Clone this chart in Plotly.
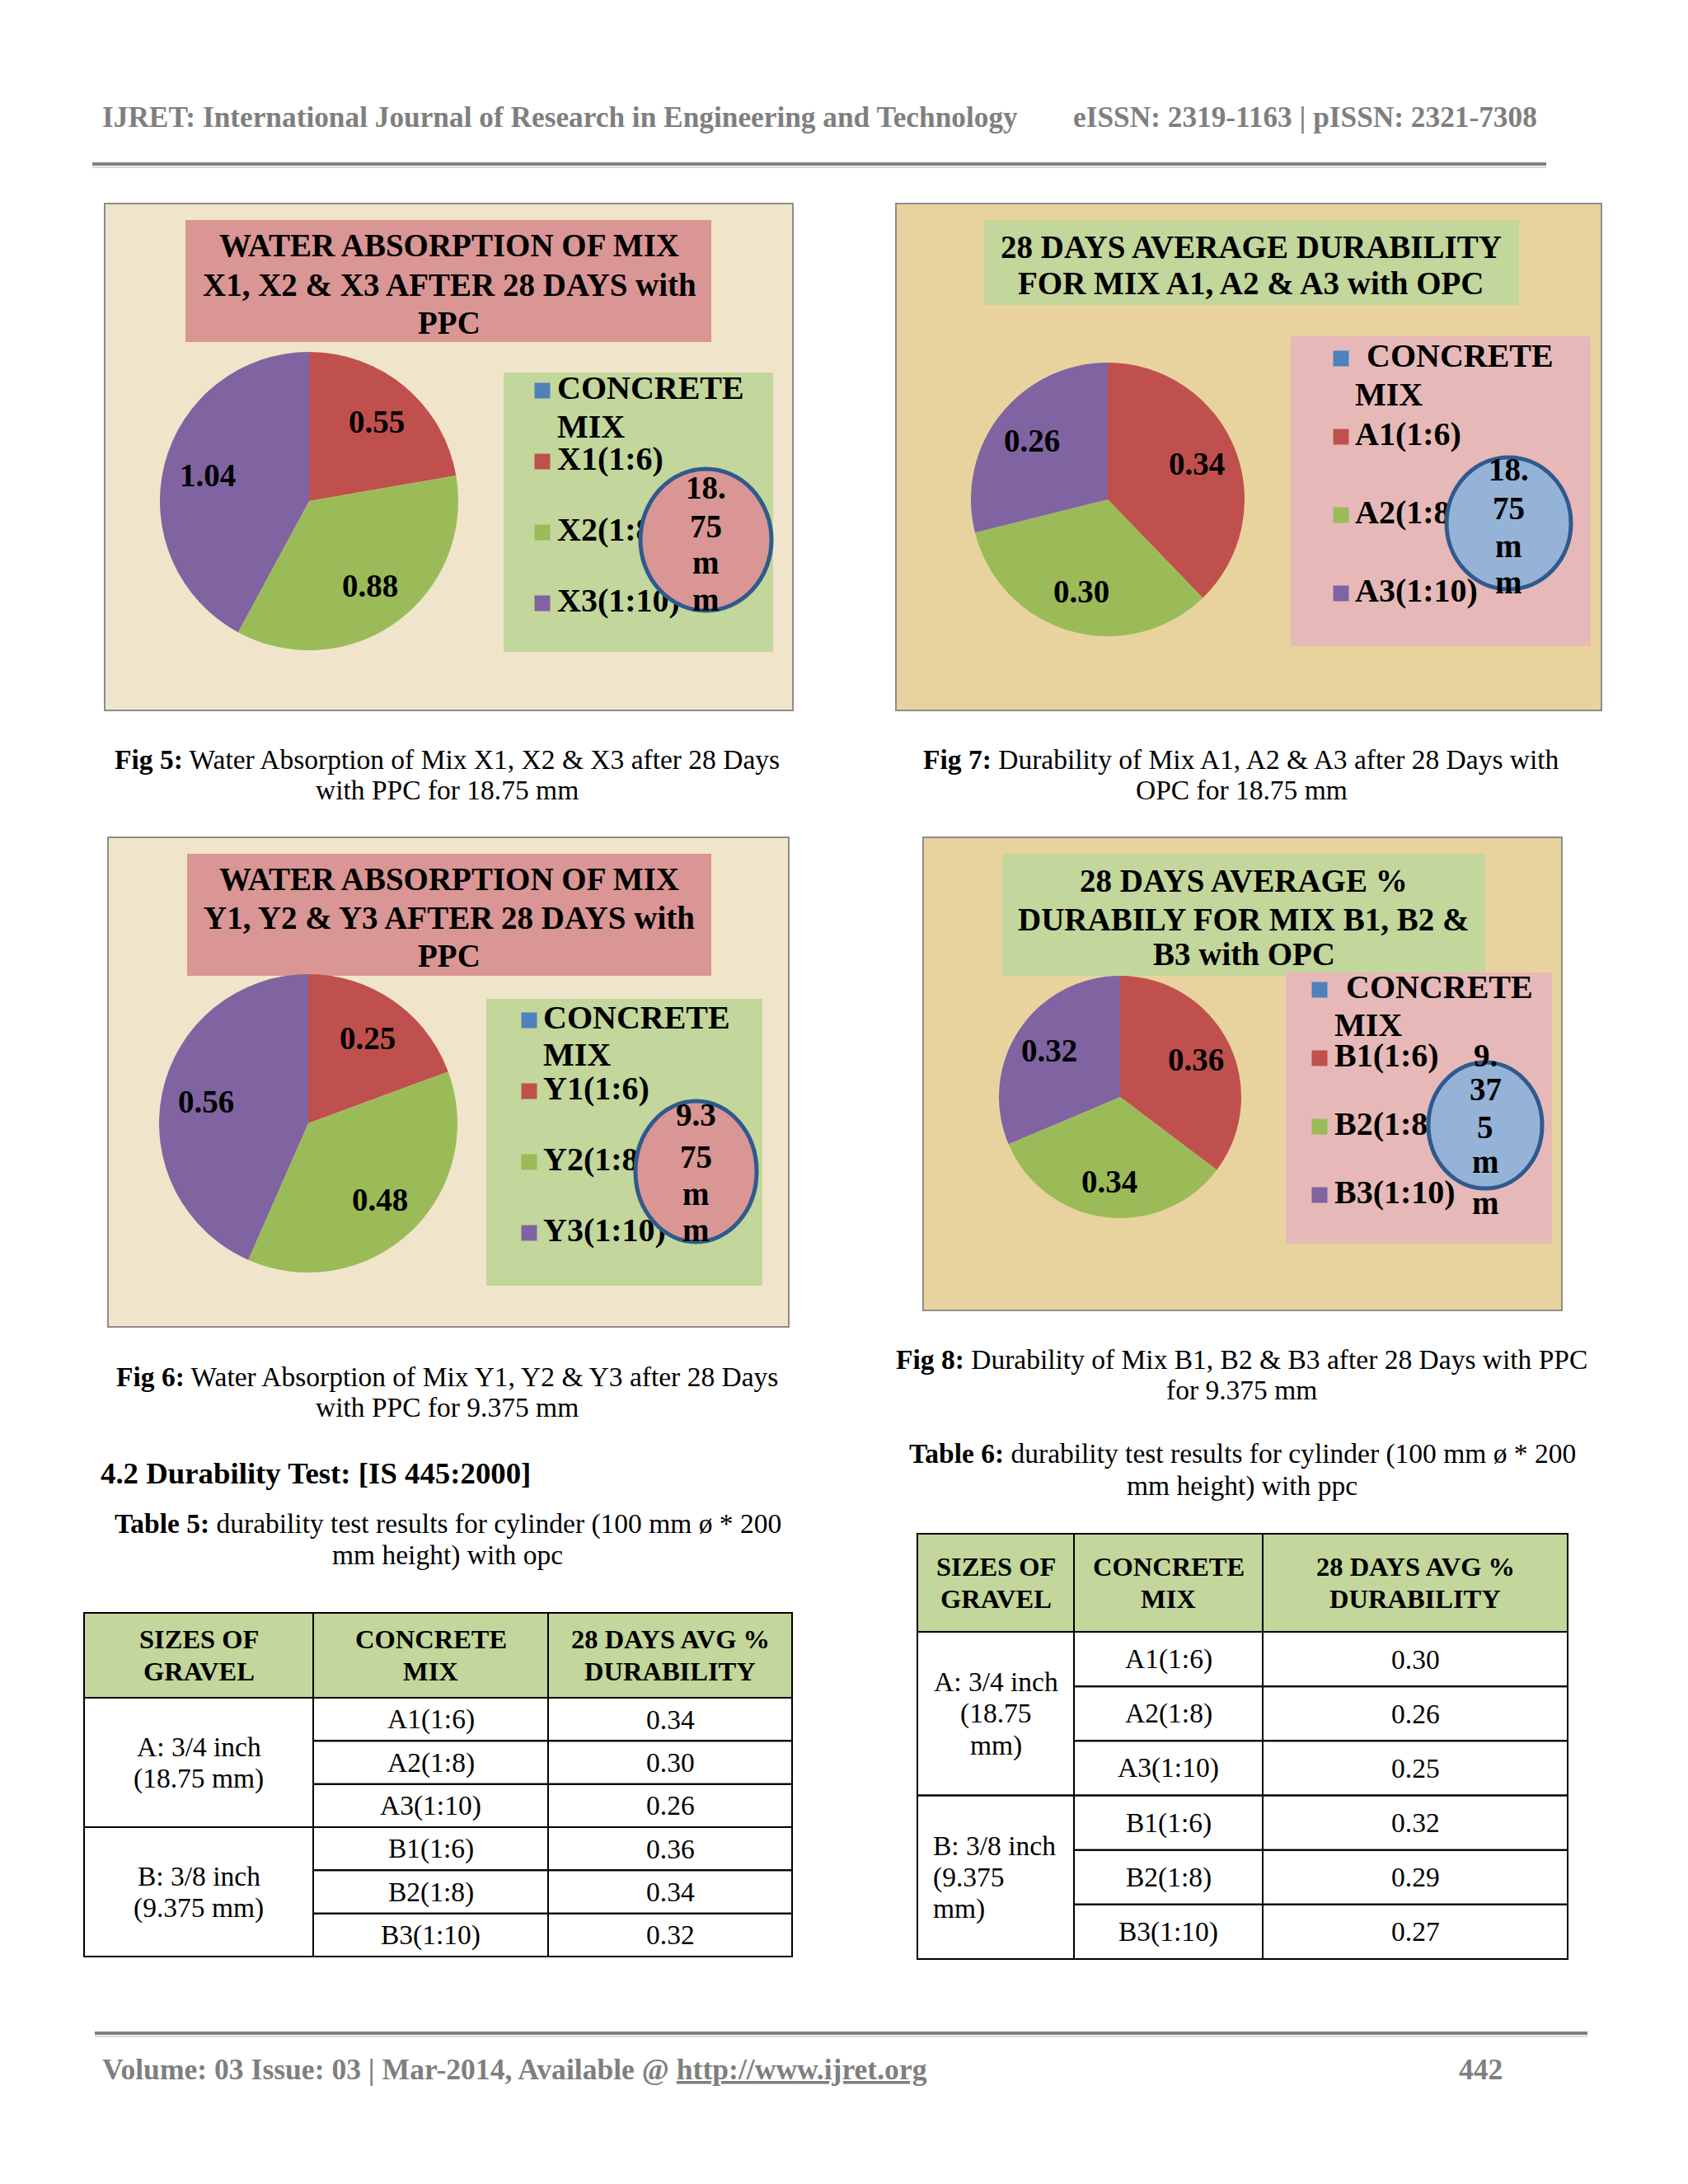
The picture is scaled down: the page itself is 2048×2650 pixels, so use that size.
import math
import plotly.graph_objects as go

W, H = 2048, 2650
SERIF = "Liberation Serif, Times New Roman, serif"

# ---------------- data ----------------
series_name = "CONCRETE MIX"
fig5_mix = ["X1(1:6)", "X2(1:8)", "X3(1:10)"]
fig5_values = [0.55, 0.88, 1.04]
fig6_mix = ["Y1(1:6)", "Y2(1:8)", "Y3(1:10)"]
fig6_values = [0.25, 0.48, 0.56]
fig7_mix = ["A1(1:6)", "A2(1:8)", "A3(1:10)"]
fig7_values = [0.34, 0.30, 0.26]
fig8_mix = ["B1(1:6)", "B2(1:8)", "B3(1:10)"]
fig8_values = [0.36, 0.34, 0.32]

fig5_title = ["WATER ABSORPTION OF MIX", "X1, X2 & X3 AFTER 28 DAYS with", "PPC"]
fig6_title = ["WATER ABSORPTION OF MIX", "Y1, Y2 & Y3 AFTER 28 DAYS with", "PPC"]
fig7_title = ["28 DAYS AVERAGE DURABILITY", "FOR MIX A1, A2 & A3 with OPC"]
fig8_title = ["28 DAYS AVERAGE %", "DURABILY FOR MIX B1, B2 &", "B3 with OPC"]
fig5_size_note = ["18.", "75", "m", "m"]
fig6_size_note = ["9.3", "75", "m", "m"]
fig7_size_note = ["18.", "75", "m", "m"]
fig8_size_note = ["9.", "37", "5", "m", "m"]

table_header = [["SIZES OF", "GRAVEL"], ["CONCRETE", "MIX"], ["28 DAYS AVG %", "DURABILITY"]]
table_mix = ["A1(1:6)", "A2(1:8)", "A3(1:10)", "B1(1:6)", "B2(1:8)", "B3(1:10)"]
table5_gravel = [["A: 3/4 inch", "(18.75 mm)"], ["B: 3/8 inch", "(9.375 mm)"]]
table6_gravel = [["A: 3/4 inch", "(18.75", "mm)"], ["B: 3/8 inch", "(9.375", "mm)"]]
table5_values = [0.34, 0.30, 0.26, 0.36, 0.34, 0.32]
table6_values = [0.30, 0.26, 0.25, 0.32, 0.29, 0.27]

# ---------------- styles ----------------
SLICE_COLORS = ["#C0504D", "#9BBB59", "#8064A2"]
SERIES_BLUE = "#4F81BD"
PINK = "#D99694"
LIGHT_PINK = "#E6B9B8"
GREEN_BOX = "#C3D69B"
ELL_BLUE = "#95B3D7"
ELL_LINE = "#2F5A8E"
PARCH = "#F0E5CA"
TAN = "#E8D39E"
GRAY_TXT = "#7F7F7F"

fig = go.Figure()


def txt(x, y, s, size=33.5, bold=False, color="black", xanchor="center", yanchor="middle"):
    fig.add_annotation(x=x, y=y, xref="x", yref="y", text=(f"<b>{s}</b>" if bold else s),
                       showarrow=False, xanchor=xanchor, yanchor=yanchor,
                       font=dict(family=SERIF, size=size, color=color))


def rect(x0, y0, x1, y1, fill=None, line_color=None, lw=2, layer="above"):
    fig.add_shape(type="rect", x0=x0, y0=y0, x1=x1, y1=y1, xref="x", yref="y", layer=layer,
                  fillcolor=fill if fill else "rgba(0,0,0,0)",
                  line=dict(color=line_color if line_color else "rgba(0,0,0,0)", width=lw if line_color else 0))


def chart(cfg, mix, values, title, note):
    fx0, fy0, fx1, fy1 = cfg["frame"]
    rect(fx0, fy0, fx1, fy1, fill=cfg["bg"], line_color="#8C8C8C", lw=2, layer="below")
    tx0, ty0, tx1, ty1 = cfg["title_box"]
    rect(tx0, ty0, tx1, ty1, fill=cfg["title_fill"], layer="below")
    lx0, ly0, lx1, ly1 = cfg["legend_box"]
    rect(lx0, ly0, lx1, ly1, fill=cfg["legend_fill"], layer="below")

    cx, cy, r = cfg["pie"]
    fig.add_trace(go.Pie(
        values=values, labels=mix, sort=False, direction="clockwise", rotation=0,
        marker=dict(colors=SLICE_COLORS, line=dict(width=0)),
        textinfo="none",
        domain=dict(x=[(cx - r) / W, (cx + r) / W], y=[1 - (cy + r) / H, 1 - (cy - r) / H]),
        hoverinfo="skip", showlegend=False))
    # data labels at 0.7 r along each slice's mid-angle (clockwise from 12 o'clock)
    tot = sum(values)
    cum = 0.0
    for v in values:
        mid = (cum + v / 2) / tot * 2 * math.pi
        cum += v
        txt(cx + 0.7 * r * math.sin(mid), cy - 0.7 * r * math.cos(mid), f"{v:.2f}", size=39, bold=True)

    # title lines
    for line, yy in zip(title, cfg["title_y"]):
        txt(cfg["title_x"], yy, line, size=39, bold=True)

    # legend (series name + categories)
    mx, tx, ys, first_dx, step_wrap = cfg["legend"]
    name_lines = series_name.split(" ")
    entry_y = [ys + i * cfg["legend_step"] for i in range(len(mix) + 1)]
    fig.add_trace(go.Scatter(
        x=[mx] * (len(mix) + 1), y=entry_y, mode="markers",
        marker=dict(symbol="square", size=19, color=[SERIES_BLUE] + SLICE_COLORS, line=dict(width=0)),
        hoverinfo="skip", showlegend=False))
    lab_x = [tx + first_dx, tx] + [tx] * len(mix)
    lab_y = [entry_y[0], entry_y[0] + step_wrap] + entry_y[1:]
    fig.add_trace(go.Scatter(
        x=lab_x, y=lab_y, mode="text", text=name_lines + mix, textposition="middle right",
        textfont=dict(family=SERIF, size=40, color="black", weight="bold"),
        hoverinfo="skip", showlegend=False))

    # ellipse with size note
    ex0, ey0, ex1, ey1 = cfg["ellipse"]
    fig.add_shape(type="circle", x0=ex0, y0=ey0, x1=ex1, y1=ey1, xref="x", yref="y", layer="above",
                  fillcolor=cfg["ell_fill"], line=dict(color=ELL_LINE, width=5))
    for line, yy in zip(note, cfg["note_y"]):
        txt((ex0 + ex1) / 2, yy, line, size=39, bold=True)


charts = [
    (dict(frame=(127, 247, 962, 862), bg=PARCH, title_box=(225, 267, 863, 415), title_fill=PINK,
          legend_box=(611, 452, 938, 791), legend_fill=GREEN_BOX, pie=(375, 608, 181),
          title_x=545, title_y=[297, 345, 391], legend=(658, 676, 474, 0, 47), legend_step=86,
          ellipse=(777, 569, 936, 741), ell_fill=PINK, note_y=[591, 638, 682, 727]),
     fig5_mix, fig5_values, fig5_title, fig5_size_note),
    (dict(frame=(1087, 247, 1943, 862), bg=TAN, title_box=(1194, 267, 1843, 370), title_fill=GREEN_BOX,
          legend_box=(1566, 408, 1930, 784), legend_fill=LIGHT_PINK, pie=(1344, 606, 166),
          title_x=1518, title_y=[299, 343], legend=(1627, 1644, 435, 14, 47), legend_step=95,
          ellipse=(1755, 555, 1906, 715), ell_fill=ELL_BLUE, note_y=[569, 616, 662, 706]),
     fig7_mix, fig7_values, fig7_title, fig7_size_note),
    (dict(frame=(131, 1016, 957, 1610), bg=PARCH, title_box=(227, 1036, 863, 1184), title_fill=PINK,
          legend_box=(590, 1212, 925, 1560), legend_fill=GREEN_BOX, pie=(374, 1363, 181),
          title_x=545, title_y=[1066, 1113, 1159], legend=(642, 659, 1238, 0, 45), legend_step=86,
          ellipse=(771, 1336, 918, 1507), ell_fill=PINK, note_y=[1352, 1403, 1448, 1492]),
     fig6_mix, fig6_values, fig6_title, fig6_size_note),
    (dict(frame=(1120, 1016, 1895, 1590), bg=TAN, title_box=(1216, 1036, 1802, 1184), title_fill=GREEN_BOX,
          legend_box=(1560, 1180, 1883, 1509), legend_fill=LIGHT_PINK, pie=(1359, 1331, 147),
          title_x=1509, title_y=[1068, 1115, 1157], legend=(1601, 1619, 1201, 14, 46), legend_step=83,
          ellipse=(1733, 1289, 1871, 1442), ell_fill=ELL_BLUE, note_y=[1280, 1321, 1367, 1409, 1459]),
     fig8_mix, fig8_values, fig8_title, fig8_size_note),
]
for cfg, mix, vals, title, note in charts:
    chart(cfg, mix, vals, title, note)

# ---------------- page header / footer ----------------
txt(122, 142, "IJRET: International Journal of Research in Engineering and Technology", size=35.3, bold=True,
    color=GRAY_TXT, xanchor="left")
txt(1867, 142, "eISSN: 2319-1163 | pISSN: 2321-7308", size=35.3, bold=True, color=GRAY_TXT, xanchor="right")
fig.add_shape(type="line", x0=112, x1=1876, y0=199, y1=199, xref="x", yref="y", line=dict(color="#808080", width=4))
fig.add_shape(type="line", x0=112, x1=1876, y0=203, y1=203, xref="x", yref="y", line=dict(color="#DADADA", width=2))
fig.add_shape(type="line", x0=115, x1=1926, y0=2467, y1=2467, xref="x", yref="y", line=dict(color="#808080", width=4))
fig.add_shape(type="line", x0=115, x1=1926, y0=2471, y1=2471, xref="x", yref="y", line=dict(color="#DADADA", width=2))
txt(122, 2511, "Volume: 03 Issue: 03 | Mar-2014, Available @ <u>http://www.ijret.org</u>", size=35.6, bold=True,
    color=GRAY_TXT, xanchor="left")
txt(1796, 2511, "442", size=35.6, bold=True, color=GRAY_TXT)


# ---------------- captions ----------------
def caption(x, ys, label, lines):
    txt(x, ys[0], f"<b>{label}</b> {lines[0]}")
    for yy, line in zip(ys[1:], lines[1:]):
        txt(x, yy, line)


caption(542, [921, 958], "Fig 5:", ["Water Absorption of Mix X1, X2 & X3 after 28 Days", "with PPC for 18.75 mm"])
caption(1506, [921, 958], "Fig 7:", ["Durability of Mix A1, A2 & A3 after 28 Days with", "OPC for 18.75 mm"])
caption(542, [1670, 1707], "Fig 6:", ["Water Absorption of Mix Y1, Y2 & Y3 after 28 Days", "with PPC for 9.375 mm"])
caption(1506, [1649, 1686], "Fig 8:", ["Durability of Mix B1, B2 & B3 after 28 Days with PPC", "for 9.375 mm"])

txt(120, 1787, "4.2 Durability Test: [IS 445:2000]", size=36.8, bold=True, xanchor="left")
caption(543, [1849, 1887], "Table 5:", ["durability test results for cylinder (100 mm ø * 200", "mm height) with opc"])
caption(1507, [1764, 1803], "Table 6:", ["durability test results for cylinder (100 mm ø * 200", "mm height) with ppc"])


# ---------------- tables ----------------
def table(xb, y_top, y_head, y_bot, gravel, values, gravel_align, gap):
    n = len(table_mix)
    row_h = (y_bot - y_head) / n
    per = n // len(gravel)
    for c in range(3):
        rect(xb[c], y_top, xb[c + 1], y_head, fill=GREEN_BOX)
    for c in range(3):
        hc = (y_top + y_head) / 2
        lines = table_header[c]
        for k, line in enumerate(lines):
            txt((xb[c] + xb[c + 1]) / 2, hc + (k - (len(lines) - 1) / 2) * gap, line, size=32.5, bold=True)
    for g, lines in enumerate(gravel):
        ya = y_head + g * per * row_h
        yb = ya + per * row_h
        mid = (ya + yb) / 2
        for k, line in enumerate(lines):
            yy = mid + (k - (len(lines) - 1) / 2) * gap
            if gravel_align[g] == "center":
                txt((xb[0] + xb[1]) / 2, yy, line)
            else:
                txt(xb[0] + 17, yy, line, xanchor="left")
    for i, (m, v) in enumerate(zip(table_mix, values)):
        ya = y_head + i * row_h
        txt((xb[1] + xb[2]) / 2, ya + row_h / 2, m)
        txt((xb[2] + xb[3]) / 2, ya + row_h / 2, f"{v:.2f}")
    # borders
    for c in range(3):
        rect(xb[c], y_top, xb[c + 1], y_head, line_color="black", lw=2)
    for g in range(len(gravel)):
        ya = y_head + g * per * row_h
        rect(xb[0], ya, xb[1], ya + per * row_h, line_color="black", lw=2)
    for i in range(n):
        ya = y_head + i * row_h
        rect(xb[1], ya, xb[2], ya + row_h, line_color="black", lw=2)
        rect(xb[2], ya, xb[3], ya + row_h, line_color="black", lw=2)


table([102, 380, 665, 961], 1957, 2060, 2374, table5_gravel, table5_values, ["center", "center"], 38.5)
table([1113, 1303, 1532, 1902], 1861, 1980, 2377, table6_gravel, table6_values, ["center", "left"], 38.5)

fig.update_layout(
    width=W, height=H, margin=dict(l=0, r=0, t=0, b=0, pad=0),
    paper_bgcolor="white", plot_bgcolor="rgba(0,0,0,0)", showlegend=False,
    xaxis=dict(range=[0, W], visible=False, fixedrange=True, domain=[0, 1]),
    yaxis=dict(range=[H, 0], visible=False, fixedrange=True, domain=[0, 1]),
)

fig.write_html("out.html", config=dict(displayModeBar=False),
               post_script="document.body.style.margin='0';document.body.style.overflow='hidden';")
